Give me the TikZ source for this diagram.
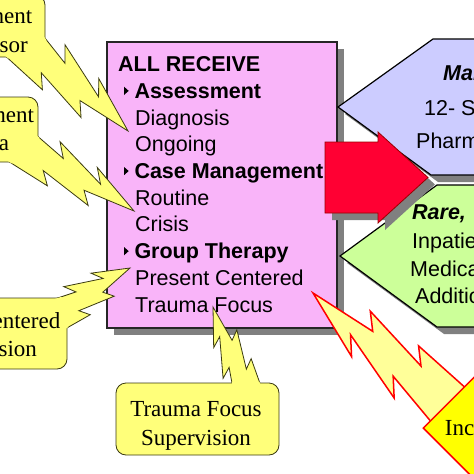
\documentclass[tikz,border=0pt]{standalone}
\usepackage{fontspec}
\setmainfont{Liberation Serif}
\setsansfont{Liberation Sans}
\usepackage{tikz}
\usetikzlibrary{calc,shapes.geometric,shadows}

\definecolor{boxpink}{HTML}{F9B4F9}
\definecolor{noteyellow}{HTML}{FFFF7A}
\definecolor{noteline}{HTML}{3A3A10}
\definecolor{arrowred}{HTML}{FF0033}
\definecolor{manyblue}{HTML}{CCCCFF}
\definecolor{raregreen}{HTML}{CCFF99}
\definecolor{shadowgray}{HTML}{808080}
\definecolor{alertyellow}{HTML}{FFFF00}
\definecolor{alertfill}{HTML}{FFFF99}

\tikzset{
  solidshadow/.style={drop shadow={shadow xshift=7pt, shadow yshift=-7pt, fill=shadowgray, opacity=1}},
  listtext/.style={font=\sffamily\fontsize{21.5}{26}\selectfont, anchor=base west, inner sep=0pt},
  listhead/.style={listtext, font=\sffamily\bfseries\fontsize{21.5}{26}\selectfont},
  sidehead/.style={listtext, font=\sffamily\bfseries\itshape\fontsize{21.5}{26}\selectfont},
  callout/.style={draw=noteline, fill=noteyellow, line width=0.8pt, rounded corners=10pt, inner sep=0pt},
  notetext/.style={font=\fontsize{23}{28}\selectfont, anchor=base, inner sep=0pt},
  bolt/.style={draw=noteline, fill=noteyellow, line width=0.8pt},
  alertbolt/.style={draw=red, fill=alertfill, line width=1.5pt},
}

% zig-zag tail from #2 (inside a note) to #3, half width #4
\newcommand{\zap}[4][bolt]{%
  \path[#1] ($(#2)!#4pt!90:(#3)$)
    -- ($(#2)!0.38!(#3)!0.491*#4pt!90:(#3)$)
    -- ($(#2)!0.30!(#3)!1.135*#4pt!90:(#3)$)
    -- ($(#2)!0.70!(#3)!0.315*#4pt!90:(#3)$)
    -- ($(#2)!0.62!(#3)!0.959*#4pt!90:(#3)$)
    -- (#3)
    -- ($(#2)!0.62!(#3)!-0.359*#4pt!90:(#3)$)
    -- ($(#2)!0.70!(#3)!-0.915*#4pt!90:(#3)$)
    -- ($(#2)!0.30!(#3)!-0.535*#4pt!90:(#3)$)
    -- ($(#2)!0.38!(#3)!-1.091*#4pt!90:(#3)$)
    -- ($(#2)!-#4pt!90:(#3)$) -- cycle;%
}

\begin{document}
\begin{tikzpicture}[x=1pt, y=-1pt]
\useasboundingbox (0,0) rectangle (474,474);
\clip (0,0) rectangle (474,474);

% main box
\node[draw=black!85, fill=boxpink, line width=1.2pt, minimum width=230pt, minimum height=286pt, inner sep=0pt, solidshadow] (allbox) at (222,185) {};
\node[listhead] (allrec) at (118,71.5) {ALL RECEIVE};
\node[listhead] (assess) at (134.3,98.2) {Assessment};
\node[listtext] (diag) at (135,125) {Diagnosis};
\node[listtext] (ongoing) at (135,151.7) {Ongoing};
\node[listhead] (casemgmt) at (134.3,178.4) {Case Management};
\node[listtext] (routine) at (135,205) {Routine};
\node[listtext] (crisis) at (135,231.8) {Crisis};
\node[listhead] (group) at (134.3,258.5) {Group Therapy};
\node[listtext] (present) at (135,285.2) {Present Centered};
\node[listtext] (trauma) at (135,312) {Trauma Focus};
\foreach \yb in {98.2,178.4,258.5}
  \fill (124,\yb-11.5) -- (128.7,\yb-7.35) -- (124,\yb-3.2) -- cycle;

% options on the right
\path[draw=black, line width=1.2pt, fill=manyblue, solidshadow] (338,107) -- (433,39) -- (520,39) -- (520,175) -- (431,175) -- cycle;
\path[draw=black, line width=1.2pt, fill=raregreen, solidshadow] (340,256) -- (437,185) -- (520,185) -- (520,327) -- (437,327) -- cycle;
\node[sidehead] (manyhd) at (443,80) {Many};
\node[listtext] (manystep) at (424,115) {12- Step};
\node[listtext] (manypharm) at (416,148) {Pharmacology};
\node[sidehead] (rarehd) at (412,219) {Rare,};
\node[listtext] (rareinp) at (412,248) {Inpatient};
\node[listtext] (raremed) at (410,276) {Medication};
\node[listtext] (rareadd) at (415,303) {Additional};

% block arrow
\path[draw=red!60!black, line width=0.8pt, fill=arrowred, solidshadow] (325,142) -- (378,142) -- (378,132) -- (428,177.5) -- (378,223) -- (378,213) -- (325,213) -- cycle;

% tail ends
\coordinate (tipdiag) at (128,131);
\coordinate (tipcrisis) at (134,211);
\coordinate (tippresent) at (130,268);
\coordinate (tiptrauma) at (213,307);
\coordinate (tipalert) at (313,293);
\coordinate (c1tail) at (15,35);
\coordinate (c2tail) at (12,140);
\coordinate (c3tail) at (50,318);
\coordinate (c4tail) at (250,400);
\coordinate (alerttail) at (455,412);

% supervision notes
\zap{c1tail}{tipdiag}{22}
\zap{c2tail}{tipcrisis}{20}
\zap{c3tail}{tippresent}{17}
\zap{c4tail}{tiptrauma}{15}
\node[callout, minimum width=135pt, minimum height=62pt] (c1) at (-22.5,26) {};
\node[callout, minimum width=128pt, minimum height=65pt] (c2) at (-26,129.5) {};
\node[callout, minimum width=170pt, minimum height=71pt] (c3) at (-18,333.5) {};
\node[callout, minimum width=163pt, minimum height=72pt] (c4) at (197.5,419) {};
\foreach \n/\t/\w in {c1/tipdiag/22, c2/tipcrisis/20, c3/tippresent/17, c4/tiptrauma/15} {
  \begin{scope}
    \clip[rounded corners=10pt] ($(\n.south west)+(-1,1)$) rectangle ($(\n.north east)+(1,-1)$);
    \zap[fill=noteyellow]{\n tail}{\t}{\w}
  \end{scope}
}
\node[notetext] (c1a) at (-22,23) {Assessment};
\node[notetext] (c1b) at (-22,52) {Supervisor};
\node[notetext] (c2a) at (-26,122.7) {Management};
\node[notetext] (c2b) at (-26,150) {Criteria};
\node[notetext] (c3a) at (-18,328.3) {Present Centered};
\node[notetext] (c3b) at (-18,356.7) {Supervision};
\node[notetext] (c4a) at (196,416.7) {Trauma Focus};
\node[notetext] (c4b) at (196,445) {Supervision};

% alert
\zap[alertbolt]{alerttail}{tipalert}{25}
\node[draw=red, line width=1.5pt, fill=alertyellow, shape=diamond, aspect=1, minimum width=128pt, minimum height=128pt, inner sep=0pt, font=\fontsize{23}{28}\selectfont] (alert) at (487,428) {Incidents};
\end{tikzpicture}
\end{document}
